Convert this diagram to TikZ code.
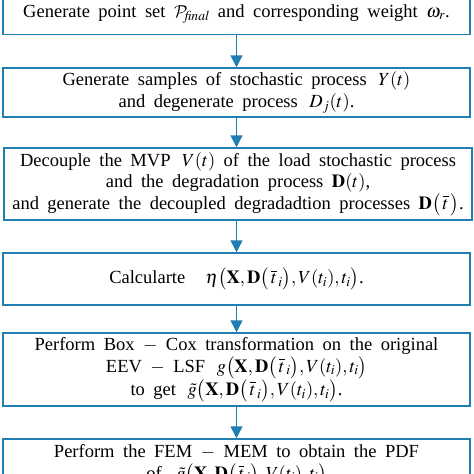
\documentclass[tikz,border=0pt]{standalone}
\usepackage{mathptmx}
\DeclareMathAlphabet{\mathcal}{OMS}{cmsy}{m}{n}
\usepackage{fontspec}
\setmainfont{Liberation Serif}
\usetikzlibrary{arrows.meta}
\definecolor{bblue}{RGB}{31,127,178}
\newcommand{\boxfont}{\fontsize{18.5}{21.7}\selectfont}
\tikzset{
  box/.style={draw=bblue, line width=1.5pt, minimum width=467pt, inner sep=0pt, align=center,
    font=\boxfont, execute at begin node={\spaceskip=8.5pt plus 2pt\relax}},
  arr/.style={draw=bblue, line width=1.5pt, -{Triangle[width=12pt,length=12pt,fill=bblue]}}
}
\newcommand{\Dti}{\mathbf{D}\bigl(\,\overline{t}_{\,i}\bigr)}
\newcommand{\argsi}{\bigl(\mathbf{X},\Dti,V(t_i),t_i\bigr)}
\begin{document}
\begin{tikzpicture}[x=1pt,y=-1pt]
\useasboundingbox (0,0) rectangle (474,474);
\node[box, minimum height=42pt] (b1) at (236.5,13.5)
  {Generate point set $\mathcal{P}_{\!\mathit{final}}$ and corresponding weight $\omega_r$.};
\node[box, minimum height=49pt] (b2) at (236.5,92.5)
  {Generate samples of stochastic process\, $Y(t)$\\ and degenerate process\, $D_j(t)$.};
\node[box, minimum height=72pt, minimum width=468pt] (b3) at (238,184)
  {Decouple the MVP\, $V(t)$ of the load stochastic process\\ and the degradation process $\mathbf{D}(t)$,\\ and generate the decoupled degradadtion processes $\mathbf{D}\bigl(\,\overline{t}\,\bigr)$.};
\node[box, minimum height=52pt] (b4) at (236.5,279)
  {Calcularte\ \, $\eta\argsi$.};
\node[box, minimum height=73pt] (b5) at (236.5,369.5)
  {Perform Box $-$ Cox transformation on the original\\ EEV $-$ LSF\, $g\argsi$\\ to get\, $\tilde{g}\argsi$.};
\node[box, minimum height=52pt] (b6) at (236.5,465)
  {Perform the FEM $-$ MEM to obtain the PDF\\ of\,\, $\tilde{g}\argsi$};
\draw[arr] (b1.south) -- (b2.north);
\draw[arr] (b2.south) -- (b3.north -| b2.south);
\draw[arr] (b3.south -| b2.south) -- (b4.north);
\draw[arr] (b4.south) -- (b5.north);
\draw[arr] (b5.south) -- (b6.north);
\end{tikzpicture}
\end{document}
